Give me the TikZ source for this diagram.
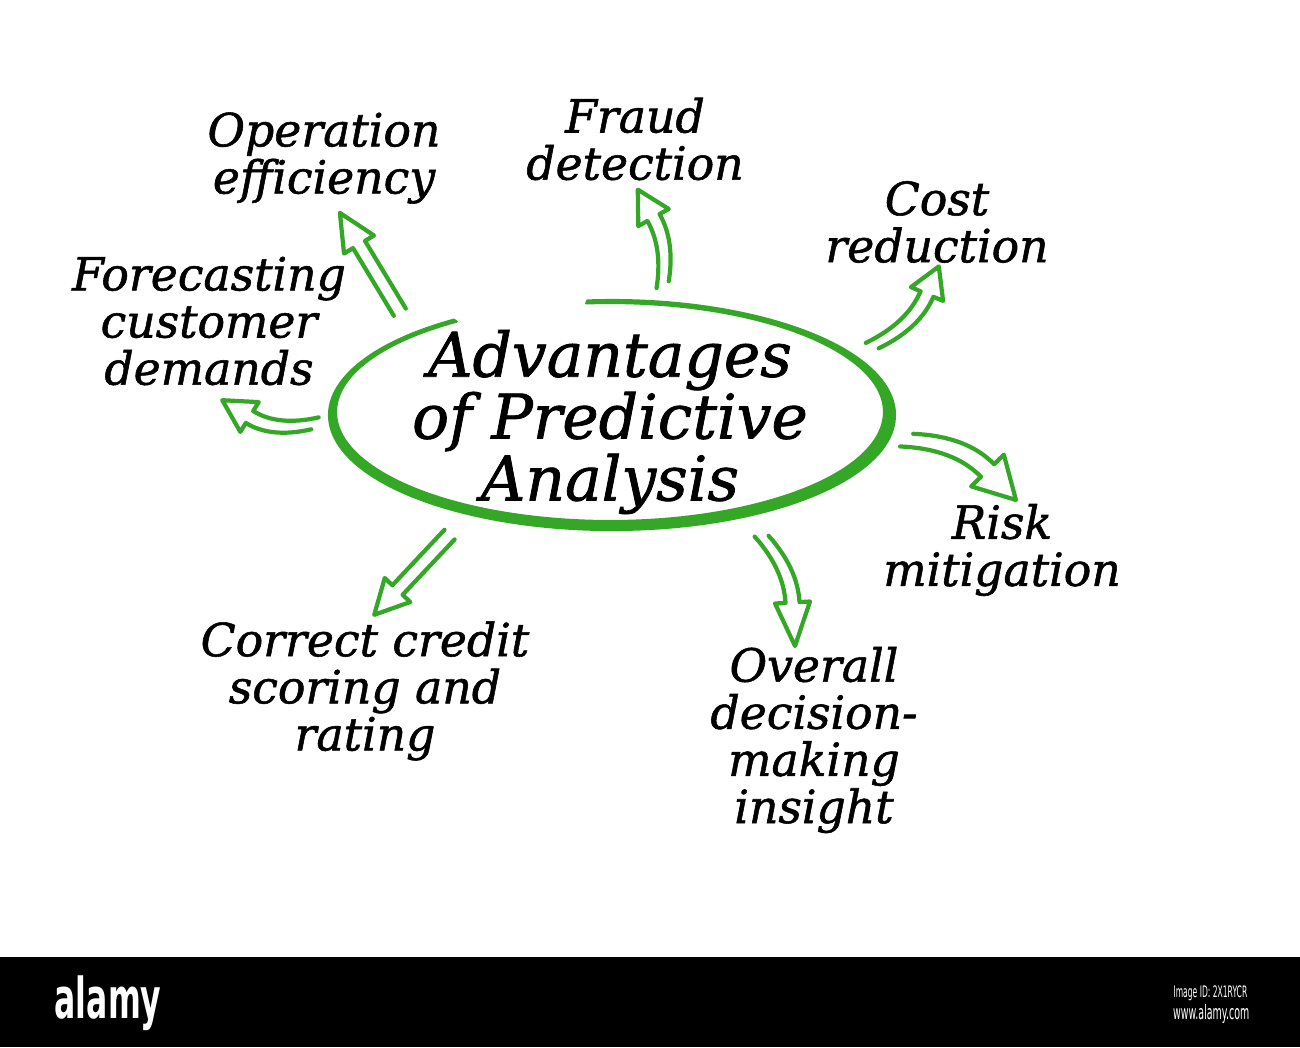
\documentclass[tikz,border=0pt]{standalone}
\usepackage{fontspec}
\setmainfont{DejaVu Serif}[ItalicFeatures={FakeBold=1.2}]
\newfontfamily\stampfont{DejaVu Sans}[FakeStretch=0.56]
\newfontfamily\stampnarrow{DejaVu Sans}[FakeStretch=0.48]

\definecolor{leafgreen}{RGB}{52,168,38}

\tikzset{
  benefit/.style={font=\fontsize{13}{13.4}\selectfont\itshape, align=center, inner sep=0pt},
  headline/.style={font=\fontsize{17.5}{17.6}\selectfont\itshape, align=center, inner sep=0pt},
  arrowline/.style={draw=leafgreen, line width=1.2pt, line join=round, line cap=round},
  stamp/.style={text=white, inner sep=0pt},
}

% hollow arrow: base of the head, direction, shaft length, tail offset, head length
\newcommand{\hollowarrow}[6][]{%
  \begin{scope}[shift={(#2)}, rotate=#3, #1]
    \draw[arrowline] (-#4,#5+7) .. controls (-2*#4/3,#5/3+7) and (-#4/3,7) .. (0,7)
      -- (0,17.5) -- (#6,0) -- (0,-17.5) -- (0,-7)
      .. controls (-#4/3,-7) and (-2*#4/3,#5/3-7) .. (-#4,#5-7);
  \end{scope}}

\begin{document}
\begin{tikzpicture}[x=0.01cm, y=-0.01cm]
  \useasboundingbox (0,0) rectangle (1300,1047);
  \fill[white] (0,0) rectangle (1300,1047);

  % centre ring, open at the top left
  \filldraw[leafgreen, line width=0.6pt, line join=round]
    (612,415) ++(265:283 and 115)
    arc[start angle=265, end angle=596, x radius=283, y radius=115]
    -- ([shift={(610,412)}]596:274 and 109)
    arc[start angle=596, end angle=265, x radius=274, y radius=109] -- cycle;
  \node[headline] (AP) at (610,422) {Advantages\\of Predictive\\Analysis};

  \node[benefit] (OE) at (324,158) {Operation\\efficiency};
  \node[benefit] (FD) at (635,139) {Fraud\\detection};
  \node[benefit] (CR) at (937,222) {Cost\\reduction};
  \node[benefit] (FC) at (209,321) {Forecasting\\customer\\demands};
  \node[benefit] (RM) at (1002,550) {Risk\\mitigation};
  \node[benefit] (OD) at (814,740) {Overall\\decision-\\making\\insight};
  \node[benefit] (CS) at (365,691) {Correct credit\\scoring and\\rating};

  \coordinate (OEb) at (359,244.5);
  \coordinate (FDb) at (653.5,217.5);
  \coordinate (CRb) at (927,294);
  \coordinate (RMb) at (987.5,470.5);
  \coordinate (ODb) at (792.5,602.5);
  \coordinate (CSb) at (397.5,590);
  \coordinate (FCb) at (249.5,417);

  \hollowarrow{OEb}{121.1}{79}{0}{37}
  \hollowarrow{FDb}{119.4}{63}{-25}{32}
  \hollowarrow{CRb}{66.8}{69}{-30}{30}
  \hollowarrow[scale=1.3]{RMb}{-46}{60}{28.5}{31.5}
  \hollowarrow{ODb}{-86.7}{68}{27}{43.6}
  \hollowarrow{CSb}{-133.2}{76}{0}{34}
  \hollowarrow{FCb}{148.3}{59}{29}{32}

  % stock band
  \fill[black] (0,957) rectangle (1300,1047);
  \node[stamp, anchor=base west, font=\stampfont\bfseries\fontsize{16}{16}\selectfont] (logo) at (54,1018) {alamy};
  \node[stamp, anchor=base east, font=\stampnarrow\fontsize{4.5}{5}\selectfont] (imgid) at (1248,997) {Image ID: 2X1RYCR};
  \node[stamp, anchor=base east, font=\stampnarrow\fontsize{5.6}{6}\selectfont] (site) at (1250,1019) {www.alamy.com};
\end{tikzpicture}
\end{document}
